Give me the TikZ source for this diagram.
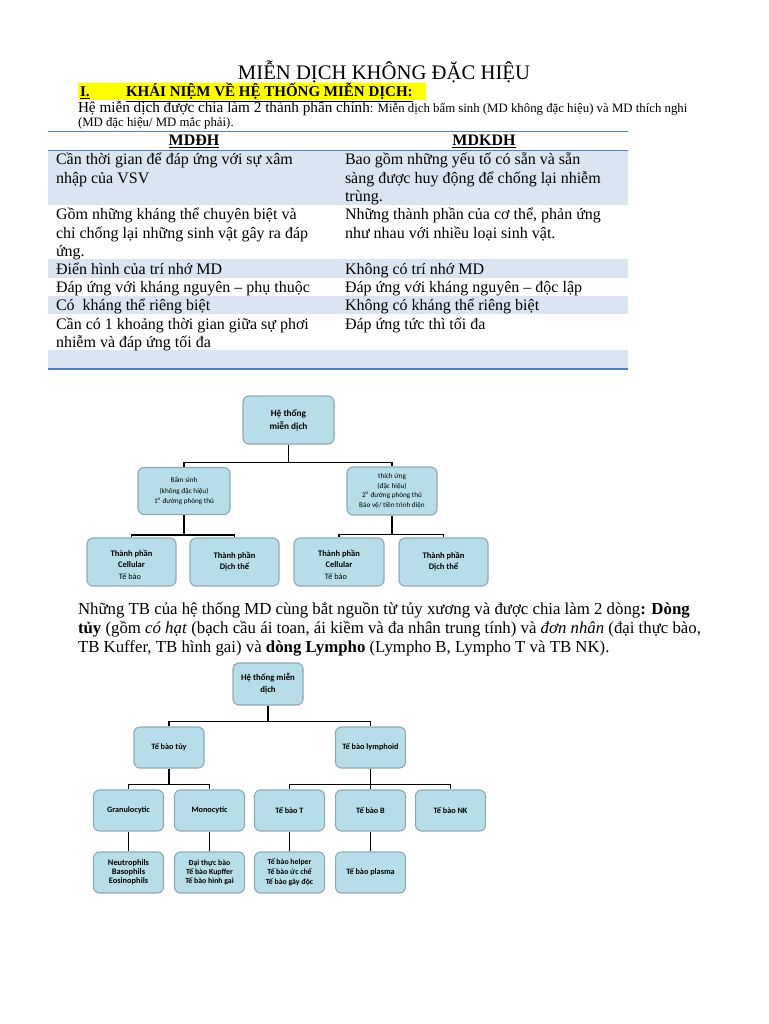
\documentclass[tikz,border=0pt]{standalone}
\usepackage{fontspec}
\setmainfont{Liberation Serif}
\newfontfamily\boxf{Carlito}
\usetikzlibrary{calc}
\definecolor{tblue}{HTML}{DBE5F1}
\definecolor{tline}{HTML}{4F81BD}
\definecolor{bfill}{HTML}{B7DEE8}
\definecolor{bdraw}{HTML}{8FA9B4}
\definecolor{hl}{HTML}{FFFF00}
\begin{document}
\begin{tikzpicture}[x=1pt,y=-1pt,
  txt/.style={anchor=base west, inner sep=0pt, outer sep=0pt},
  cell/.style={txt, font=\fontsize{16}{18}\selectfont},
  para/.style={txt, font=\fontsize{16.8}{19}\selectfont},
  dbox/.style={draw=bdraw, fill=bfill, rounded corners=6pt, line width=1.1pt, align=center, inner sep=1pt, font=\boxf\bfseries\fontsize{8}{12}\selectfont},
  conn/.style={line width=1.8pt, black}
]
\useasboundingbox[fill=white] (0,0) rectangle (768,1024);

% ---------- title and intro ----------
\node[anchor=base, inner sep=0pt, font=\fontsize{20.7}{24}\selectfont] (title) at (384,80) {MIỄN DỊCH KHÔNG ĐẶC HIỆU};
\fill[hl] (78,83) rectangle (426,100);
\node[txt, font=\bfseries\fontsize{15}{18}\selectfont] (h1) at (80,96.5) {\underline{I.}};
\node[txt, font=\bfseries\fontsize{15}{18}\selectfont] (h2) at (126,96.5) {\underline{KHÁI NIỆM VỀ HỆ THỐNG MIỄN DỊCH:}};
\node[txt, font=\fontsize{15.2}{18}\selectfont] (i1) at (78,113) {Hệ miễn dịch được chia làm 2 thành phần chính\fontsize{12.8}{14}\selectfont: Miễn dịch bẩm sinh (MD không đặc hiệu) và MD thích nghi};
\node[txt, font=\fontsize{12.8}{14}\selectfont] (i2) at (78,127) {(MD đặc hiệu/ MD mắc phải).};

% ---------- table ----------
\fill[tblue] (48,151) rectangle (628,205);
\fill[tblue] (48,259) rectangle (628,278);
\fill[tblue] (48,296) rectangle (628,314);
\fill[tblue] (48,350) rectangle (628,369);
\draw[tline, line width=1pt] (48,132) -- (628,132);
\draw[tline, line width=1.8pt] (48,150.5) -- (628,150.5);
\draw[tline, line width=1.8pt] (48,369) -- (628,369);

\node[anchor=base, inner sep=0pt, font=\bfseries\fontsize{16}{18}\selectfont] (hd1) at (194,146) {\underline{MDĐH}};
\node[anchor=base, inner sep=0pt, font=\bfseries\fontsize{16}{18}\selectfont] (hd2) at (484,146) {\underline{MDKDH}};

\node[cell] (a1) at (56,165) {Cần thời gian để đáp ứng với sự xâm};
\node[cell] (a2) at (56,184) {nhập của VSV};
\node[cell] (b1) at (345,165) {Bao gồm những yếu tố có sẵn và sẵn};
\node[cell] (b2) at (345,184) {sàng được huy động để chống lại nhiễm};
\node[cell] (b3) at (345,202) {trùng.};

\node[cell] (a3) at (56,220) {Gồm những kháng thể chuyên biệt và};
\node[cell] (a4) at (56,238) {chỉ chống lại những sinh vật gây ra đáp};
\node[cell] (a5) at (56,256) {ứng.};
\node[cell] (b4) at (345,220) {Những thành phần của cơ thể, phản ứng};
\node[cell] (b5) at (345,238) {như nhau với nhiều loại sinh vật.};

\node[cell] (a6) at (56,274) {Điển hình của trí nhớ MD};
\node[cell] (b6) at (345,274) {Không có trí nhớ MD};
\node[cell] (a7) at (56,292) {Đáp ứng với kháng nguyên – phụ thuộc};
\node[cell] (b7) at (345,292) {Đáp ứng với kháng nguyên – độc lập};
\node[cell] (a8) at (56,310) {Có\ \ kháng thể riêng biệt};
\node[cell] (b8) at (345,310) {Không có kháng thể riêng biệt};
\node[cell] (a9) at (56,329) {Cần có 1 khoảng thời gian giữa sự phơi};
\node[cell] (a10) at (56,347) {nhiễm và đáp ứng tối đa};
\node[cell] (b9) at (345,329) {Đáp ứng tức thì tối đa};

% ---------- diagram 1 ----------
\tikzset{cbox/.style={dbox, minimum width=89pt, minimum height=48pt, font=\boxf\bfseries\fontsize{8.5}{11}\selectfont}}
\node[dbox, minimum width=91pt, minimum height=48pt, font=\boxf\bfseries\fontsize{9.3}{13}\selectfont] (r) at (288.5,420) {Hệ thống\\miễn dịch};
\node[dbox, minimum width=92pt, minimum height=47pt, font=\boxf\fontsize{7.2}{10.5}\selectfont] (m1) at (184,491) {Bẩm sinh\\(không đặc hiệu)\\1\textsuperscript{o} đường phòng thủ};
\node[dbox, minimum width=90pt, minimum height=48pt, font=\boxf\fontsize{7.2}{9.6}\selectfont] (m2) at (392,491) {thích ứng\\(đặc hiệu)\\2\textsuperscript{o} đường phòng thủ\\Bảo vệ/ tiền trình diện};
\node[cbox] (c1) at (131.5,562) {Thành phần\\Cellular\\[-5pt]\mbox{}};
\node[cbox] (c2) at (234.5,562) {Thành phần\\Dịch thể};
\node[cbox, minimum width=90pt] (c3) at (339,562) {Thành phần\\Cellular\\[-5pt]\mbox{}};
\node[cbox] (c4) at (443.5,562) {Thành phần\\Dịch thể};
\node[anchor=base, inner sep=0pt, font=\boxf\fontsize{8.3}{9}\selectfont] (c1t) at (130,579.5) {Tế bào};
\node[anchor=base, inner sep=0pt, font=\boxf\fontsize{8.3}{9}\selectfont] (c3t) at (336,579.5) {Tế bào};

\draw[conn] (r.south) -- ++(0,18) -| (m1.north);
\draw[conn] (r.south) -- ++(0,18) -| (m2.north);
\draw[conn] (m1.south) -- ++(0,20) -| (c1.north);
\draw[conn] (m1.south) -- ++(0,20) -| (c2.north);
\draw[conn] (m2.south) -- ++(0,19) -| (c3.north);
\draw[conn] (m2.south) -- ++(0,19) -| (c4.north);

% ---------- paragraph ----------
\node[para] (p1) at (78,614) {Những TB của hệ thống MD cùng bắt nguồn từ tủy xương và được chia làm 2 dòng\textbf{: Dòng}};
\node[para] (p2) at (78,633) {\textbf{tủy} (gồm \textit{có hạt} (bạch cầu ái toan, ái kiềm và đa nhân trung tính) và \textit{đơn nhân} (đại thực bào,};
\node[para] (p3) at (78,652) {TB Kuffer, TB hình gai) và \textbf{dòng Lympho} (Lympho B, Lympho T và TB NK).};

% ---------- diagram 2 ----------
\tikzset{sbox/.style={dbox, minimum width=70pt, minimum height=41pt, font=\boxf\bfseries\fontsize{8.2}{12}\selectfont}}
\node[sbox, minimum height=42pt, font=\boxf\bfseries\fontsize{8.8}{12}\selectfont] (s0) at (268,684) {Hệ thống miễn\\dịch};
\node[sbox] (s1) at (169,747.5) {Tế bào tủy};
\node[sbox] (s2) at (370.5,747.5) {Tế bào lymphoid};
\node[sbox] (g) at (128.5,810.5) {Granulocytic};
\node[sbox] (mo) at (209.5,810.5) {Monocytic};
\node[sbox] (t) at (289.5,810.5) {Tế bào T};
\node[sbox] (b) at (370.5,810.5) {Tế bào B};
\node[sbox] (nk) at (450.5,810.5) {Tế bào NK};
\node[sbox, font=\boxf\bfseries\fontsize{8.4}{9.2}\selectfont] (g2) at (128.5,872.5) {Neutrophils\\Basophils\\Eosinophils};
\node[sbox, font=\boxf\bfseries\fontsize{7.8}{9.3}\selectfont] (mo2) at (209.5,872.5) {Đại thực bào\\Tế bào Kupffer\\Tế bào hình gai};
\node[sbox, font=\boxf\bfseries\fontsize{7.8}{10}\selectfont] (t2) at (289.5,872.5) {Tế bào helper\\Tế bào ức chế\\Tế bào gây độc};
\node[sbox] (b2) at (370.5,872.5) {Tế bào plasma};

\draw[conn] (s0.south) -- ++(0,16) -| (s1.north);
\draw[conn] (s0.south) -- ++(0,16) -| (s2.north);
\draw[conn] (s1.south) -- ++(0,16) -| (g.north);
\draw[conn] (s1.south) -- ++(0,16) -| (mo.north);
\draw[conn] (s2.south) -- ++(0,16) -| (t.north);
\draw[conn] (s2.south) -- ++(0,16) -| (b.north);
\draw[conn] (s2.south) -- ++(0,16) -| (nk.north);
\draw[conn] (g.south) -- (g2.north);
\draw[conn] (mo.south) -- (mo2.north);
\draw[conn] (t.south) -- (t2.north);
\draw[conn] (b.south) -- (b2.north);
\end{tikzpicture}
\end{document}
